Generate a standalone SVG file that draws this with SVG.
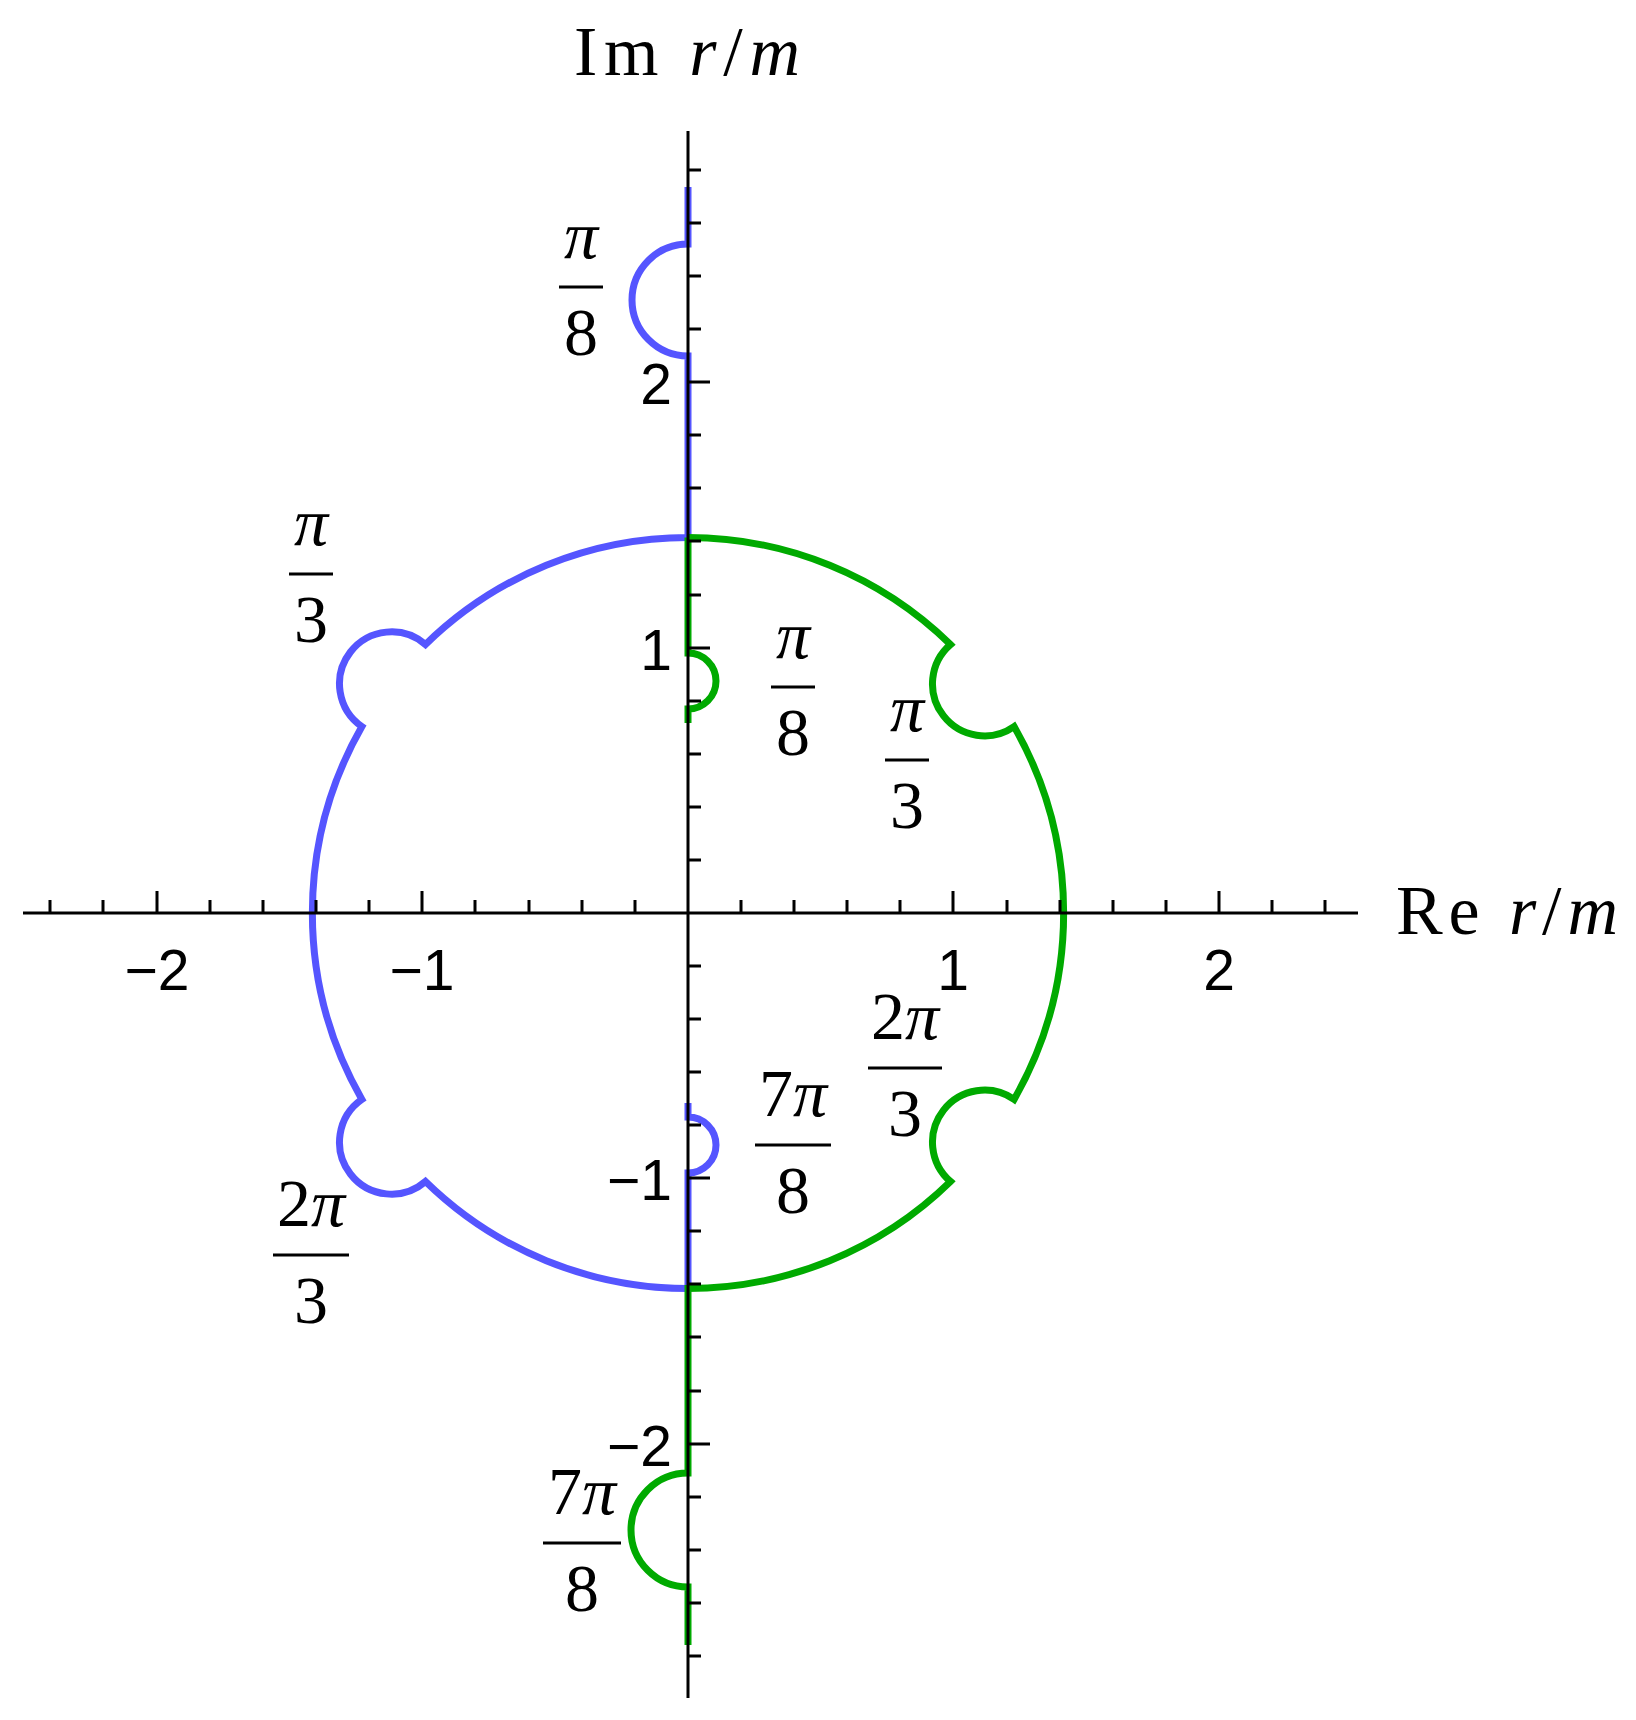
<svg xmlns="http://www.w3.org/2000/svg" width="1636" height="1720" viewBox="0 0 1636 1720">
<style>
.ax{stroke:#000;stroke-width:3;fill:none}
.cb{stroke:#5555FF;stroke-width:7;fill:none}
.cg{stroke:#00AA00;stroke-width:7;fill:none}
.tl{font-family:"Liberation Sans",Arial,sans-serif;font-size:57px;fill:#000}
.fr{font-family:"Liberation Serif","Times New Roman",serif;font-size:68px;fill:#000;text-anchor:middle}
.it{font-style:italic}
.bar{stroke:#000;stroke-width:3}
</style>
<rect width="1636" height="1720" fill="#fff"/>
<g id="curves">
<path class="cb" d="M688,187 V244 A56,56 0 0 0 688,356 V537.5 A375.5,375.5 0 0 0 425.5,644.5 A52,52 0 1 0 361.9,726.6 A375.5,375.5 0 0 0 361.9,1099.4 A52,52 0 1 0 425.5,1181.5 A375.5,375.5 0 0 0 688,1288.5 V1173 A28,28 0 0 0 688,1117 V1103"/>
<path class="cg" d="M688,537.5 V653 A28,28 0 0 1 688,709 V723"/>
<path class="cg" d="M688,537.5 A375.5,375.5 0 0 1 950.5,644.5 A52,52 0 0 0 1014.1,726.6 A375.5,375.5 0 0 1 1014.1,1099.4 A52,52 0 0 0 950.5,1181.5 A375.5,375.5 0 0 1 688,1288.5 V1473 A57,57 0 0 0 688,1587 V1645"/>
</g>
<g id="axes">
<path class="ax" d="M23,913 H1358 M688,131 V1698"/>
<path class="ax" d="M50,913 v-13 M103,913 v-13 M157,913 v-22 M210,913 v-13 M263,913 v-13 M316,913 v-13 M369,913 v-13 M422,913 v-22 M475,913 v-13 M529,913 v-13 M582,913 v-13 M635,913 v-13 M741,913 v-13 M794,913 v-13 M847,913 v-13 M900,913 v-13 M953,913 v-22 M1007,913 v-13 M1060,913 v-13 M1113,913 v-13 M1166,913 v-13 M1219,913 v-22 M1272,913 v-13 M1325,913 v-13"/>
<path class="ax" d="M688,170 h13 M688,223 h13 M688,276 h13 M688,329 h13 M688,382 h22 M688,435 h13 M688,488 h13 M688,541 h13 M688,595 h13 M688,648 h22 M688,701 h13 M688,754 h13 M688,807 h13 M688,860 h13 M688,966 h13 M688,1019 h13 M688,1072 h13 M688,1125 h13 M688,1178 h22 M688,1231 h13 M688,1284 h13 M688,1337 h13 M688,1391 h13 M688,1444 h22 M688,1497 h13 M688,1550 h13 M688,1603 h13 M688,1656 h13"/>
<g class="tl" text-anchor="middle">
<text x="157" y="990">−2</text><text x="422" y="990">−1</text><text x="953" y="990">1</text><text x="1219" y="990">2</text>
</g>
<g class="tl" text-anchor="end">
<text x="672" y="404">2</text><text x="672" y="670">1</text><text x="672" y="1200">−1</text><text x="672" y="1466">−2</text>
</g>
<text x="1396" y="934" font-family="Liberation Serif,serif" font-size="70" textLength="222" lengthAdjust="spacing">Re <tspan font-style="italic">r</tspan>/<tspan font-style="italic">m</tspan></text>
<text x="574" y="75" font-family="Liberation Serif,serif" font-size="70" textLength="226" lengthAdjust="spacing">Im <tspan font-style="italic">r</tspan>/<tspan font-style="italic">m</tspan></text>
</g>
<g id="lbl-pi8-top"><text class="fr it" x="581" y="258">π</text><line class="bar" x1="559" y1="287" x2="603" y2="287"/><text class="fr" x="581" y="355">8</text></g>
<g id="lbl-pi3-left"><text class="fr it" x="311" y="545">π</text><line class="bar" x1="289" y1="574" x2="333" y2="574"/><text class="fr" x="311" y="642">3</text></g>
<g id="lbl-pi8-mid"><text class="fr it" x="793" y="658">π</text><line class="bar" x1="771" y1="687" x2="815" y2="687"/><text class="fr" x="793" y="755">8</text></g>
<g id="lbl-pi3-right"><text class="fr it" x="907" y="731">π</text><line class="bar" x1="885" y1="760" x2="929" y2="760"/><text class="fr" x="907" y="828">3</text></g>
<g id="lbl-2pi3-right"><text class="fr" x="905" y="1039">2<tspan font-style="italic">π</tspan></text><line class="bar" x1="868" y1="1068" x2="942" y2="1068"/><text class="fr" x="905" y="1136">3</text></g>
<g id="lbl-7pi8-mid"><text class="fr" x="793" y="1116">7<tspan font-style="italic">π</tspan></text><line class="bar" x1="755" y1="1145" x2="831" y2="1145"/><text class="fr" x="793" y="1213">8</text></g>
<g id="lbl-2pi3-left"><text class="fr" x="311" y="1226">2<tspan font-style="italic">π</tspan></text><line class="bar" x1="273" y1="1255" x2="349" y2="1255"/><text class="fr" x="311" y="1323">3</text></g>
<g id="lbl-7pi8-bot"><text class="fr" x="582" y="1514">7<tspan font-style="italic">π</tspan></text><line class="bar" x1="543" y1="1543" x2="621" y2="1543"/><text class="fr" x="582" y="1611">8</text></g>
</svg>
